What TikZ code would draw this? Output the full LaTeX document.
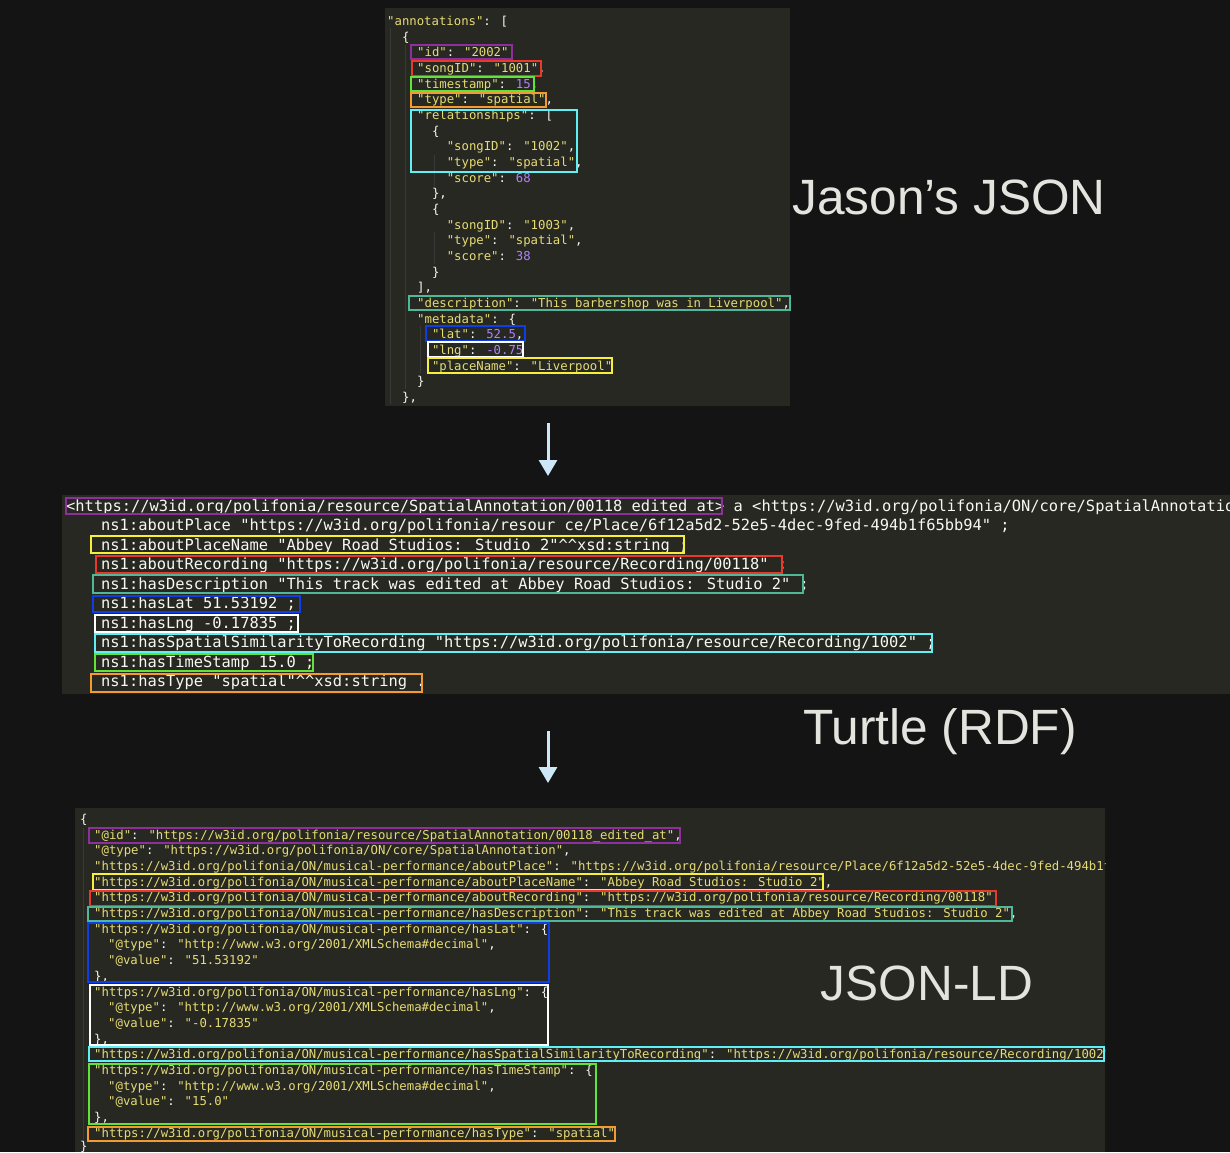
\documentclass[tikz,border=0pt]{standalone}
\usepackage{fontspec}
\setmainfont{Liberation Sans}
\newfontfamily\codefont{DejaVu Sans Mono}
\definecolor{bg}{HTML}{141414}
\definecolor{panel}{HTML}{272822}
\definecolor{jy}{HTML}{E6DB74}
\definecolor{jn}{HTML}{AE81FF}
\definecolor{jw}{HTML}{F8F8F2}
\definecolor{bpur}{HTML}{8E2F9E}
\definecolor{bred}{HTML}{E8392A}
\definecolor{bgrn}{HTML}{62E23A}
\definecolor{bora}{HTML}{F39A33}
\definecolor{bcya}{HTML}{5EF0F5}
\definecolor{btea}{HTML}{4FB89A}
\definecolor{bblu}{HTML}{0F3EE6}
\definecolor{byel}{HTML}{F7EF3A}
\definecolor{arr}{HTML}{CDE7F7}
\newcommand\Y[1]{\textcolor{jy}{#1}}
\newcommand\N[1]{\textcolor{jn}{#1}}
\newcommand\cc{\char"5E\char"5E}
\def\PF{https://w3id.org/polifonia}
\def\MP{\PF/ON/musical-performance}
\newcounter{ln}
\newcommand\jl[3]{\stepcounter{ln}\node[jtxt] (j\theln) at (#1,#2+4.3) {#3};}
\newcommand\tl[3]{\stepcounter{ln}\node[ttxt] (t\theln) at (#1,#2+5.4) {#3};}
\tikzset{
  jtxt/.style={anchor=base west,inner sep=0,text=jw,font=\codefont\fontsize{12.3}{14}\selectfont},
  ttxt/.style={anchor=base west,inner sep=0,text=jw,font=\codefont\fontsize{15.4}{17}\selectfont},
  hb/.style={draw=#1,line width=2.5pt},
  title/.style={text=jw!92!black,font=\fontsize{49.6}{58}\selectfont,inner sep=0},
  flow/.style={draw=arr,line width=3pt,-{Triangle[length=16pt,width=18pt]}},
  guide/.style={draw=gray!45!black,line width=0.8pt}
}
\usetikzlibrary{arrows.meta}
\begin{document}
\begin{tikzpicture}[x=1pt,y=-1pt]
\useasboundingbox (0,0) rectangle (1230,1152);
\fill[bg] (0,0) rectangle (1230,1152);
% panels
\fill[panel] (385,8) rectangle (790,406);
\fill[panel] (62,495) rectangle (1230,694);
\fill[panel] (75,808) rectangle (1105,1152);
% guides top
\draw[guide] (390,28) -- (390,404);
\draw[guide] (405,45) -- (405,389);
\draw[guide] (434,155) -- (434,186);
\draw[guide] (434,232) -- (434,264);
\draw[guide] (420,326) -- (420,373);
% ---------- top JSON
\jl{387}{21}{\Y{"annotations"}: [}
\jl{402}{36.7}{\{}
\jl{417}{52.3}{\Y{"id"}: \Y{"2002"},}
\jl{417}{68}{\Y{"songID"}: \Y{"1001"},}
\jl{417}{83.7}{\Y{"timestamp"}: \N{15},}
\jl{417}{99.3}{\Y{"type"}: \Y{"spatial"},}
\jl{417}{115}{\Y{"relationships"}: [}
\jl{431.8}{130.7}{\{}
\jl{446.6}{146.3}{\Y{"songID"}: \Y{"1002"},}
\jl{446.6}{162}{\Y{"type"}: \Y{"spatial"},}
\jl{446.6}{177.7}{\Y{"score"}: \N{68}}
\jl{431.8}{193.3}{\},}
\jl{431.8}{209}{\{}
\jl{446.6}{224.7}{\Y{"songID"}: \Y{"1003"},}
\jl{446.6}{240.3}{\Y{"type"}: \Y{"spatial"},}
\jl{446.6}{256}{\Y{"score"}: \N{38}}
\jl{431.8}{271.7}{\}}
\jl{417}{287.3}{],}
\jl{417}{303}{\Y{"description"}: \Y{"This barbershop was in Liverpool"},}
\jl{417}{318.7}{\Y{"metadata"}: \{}
\jl{431.8}{334.3}{\Y{"lat"}: \N{52.5},}
\jl{431.8}{350}{\Y{"lng"}: \N{-0.75}}
\jl{431.8}{365.7}{\Y{"placeName"}: \Y{"Liverpool"}}
\jl{417}{381.3}{\}}
\jl{402}{397}{\},}
\draw[hb=bpur] (411,45) rectangle (512,59);
\draw[hb=bred] (412,61) rectangle (541,76);
\draw[hb=bgrn] (411,77) rectangle (534,91);
\draw[hb=bora] (411,93) rectangle (546,107);
\draw[hb=bcya] (411,110) rectangle (577,172);
\draw[hb=btea] (409,296) rectangle (790,310);
\draw[hb=bblu] (426,326) rectangle (525,341);
\draw[hb=white] (428,342) rectangle (523,357);
\draw[hb=byel] (428,358) rectangle (612,373);
\node[title,anchor=base] (t1) at (949,214) {Jason’s JSON};
% arrows
\coordinate (a1s) at (548,423); \coordinate (a1e) at (548,476);
\draw[flow] (a1s) -- (a1e);
\coordinate (a2s) at (548,731); \coordinate (a2e) at (548,783);
\draw[flow] (a2s) -- (a2e);
% ---------- Turtle
\begin{scope}
\clip (62,495) rectangle (1230,694);
\tl{66}{506}{<\PF/resource/SpatialAnnotation/00118\_edited\_at> a <\PF/ON/core/SpatialAnnotation> ;}
\end{scope}
\tl{101}{525.5}{ns1:aboutPlace "https://w3id.org/polifonia/resour ce/Place/6f12a5d2-52e5-4dec-9fed-494b1f65bb94" ;}
\tl{101}{545}{ns1:aboutPlaceName "Abbey Road Studios: Studio 2"\cc xsd:string ;}
\tl{101}{564.5}{ns1:aboutRecording "\PF/resource/Recording/00118" ;}
\tl{101}{584}{ns1:hasDescription "This track was edited at Abbey Road Studios: Studio 2" ;}
\tl{101}{603.5}{ns1:hasLat 51.53192 ;}
\tl{101}{623}{ns1:hasLng -0.17835 ;}
\tl{101}{642.5}{ns1:hasSpatialSimilarityToRecording "\PF/resource/Recording/1002" ;}
\tl{101}{662}{ns1:hasTimeStamp 15.0 ;}
\tl{101}{681.5}{ns1:hasType "spatial"\cc xsd:string .}
\draw[hb=bpur] (66,498) rectangle (722,514);
\draw[hb=byel] (91,536) rectangle (684,553);
\draw[hb=bred] (96,556) rectangle (782,573);
\draw[hb=btea] (93,575) rectangle (803,593);
\draw[hb=bblu] (93,596) rectangle (300,612);
\draw[hb=white] (95,615) rectangle (298,632);
\draw[hb=bcya] (95,634) rectangle (932,652);
\draw[hb=bgrn] (95,654) rectangle (313,671);
\draw[hb=bora] (91,674) rectangle (422,692);
\node[title,anchor=base] (t2) at (940,744) {Turtle (RDF)};
% ---------- JSON-LD
\draw[guide] (83,828) -- (83,1146);
\begin{scope}
\clip (75,808) rectangle (1105,1152);
\jl{80}{819}{\{}
\jl{94}{834.7}{\Y{"@id"}: \Y{"\PF/resource/SpatialAnnotation/00118\_edited\_at"},}
\jl{94}{850.4}{\Y{"@type"}: \Y{"\PF/ON/core/SpatialAnnotation"},}
\jl{94}{866.1}{\Y{"\MP/aboutPlace"}: \Y{"\PF/resource/Place/6f12a5d2-52e5-4dec-9fed-494b1f65bb94"},}
\jl{94}{881.8}{\Y{"\MP/aboutPlaceName"}: \Y{"Abbey Road Studios: Studio 2"},}
\jl{94}{897.5}{\Y{"\MP/aboutRecording"}: \Y{"\PF/resource/Recording/00118"},}
\jl{94}{913.2}{\Y{"\MP/hasDescription"}: \Y{"This track was edited at Abbey Road Studios: Studio 2"},}
\jl{94}{928.9}{\Y{"\MP/hasLat"}: \{}
\jl{108}{944.6}{\Y{"@type"}: \Y{"http://www.w3.org/2001/XMLSchema\#decimal"},}
\jl{108}{960.3}{\Y{"@value"}: \Y{"51.53192"}}
\jl{94}{976}{\},}
\jl{94}{991.7}{\Y{"\MP/hasLng"}: \{}
\jl{108}{1007.4}{\Y{"@type"}: \Y{"http://www.w3.org/2001/XMLSchema\#decimal"},}
\jl{108}{1023.1}{\Y{"@value"}: \Y{"-0.17835"}}
\jl{94}{1038.8}{\},}
\jl{94}{1054.5}{\Y{"\MP/hasSpatialSimilarityToRecording"}: \Y{"\PF/resource/Recording/1002"}}
\jl{94}{1070.2}{\Y{"\MP/hasTimeStamp"}: \{}
\jl{108}{1085.9}{\Y{"@type"}: \Y{"http://www.w3.org/2001/XMLSchema\#decimal"},}
\jl{108}{1101.6}{\Y{"@value"}: \Y{"15.0"}}
\jl{94}{1117.3}{\},}
\jl{94}{1133}{\Y{"\MP/hasType"}: \Y{"spatial"}}
\jl{80}{1146.5}{\}}
\end{scope}
\draw[hb=bpur] (89,828) rectangle (680,843);
\draw[hb=byel] (93,874) rectangle (823,890);
\draw[hb=bred] (90,891) rectangle (996,906);
\draw[hb=btea] (88,907) rectangle (1012,921);
\draw[hb=bblu] (88,923) rectangle (549,982);
\draw[hb=white] (90,985) rectangle (548,1045);
\draw[hb=bcya] (89,1047) rectangle (1104,1061);
\draw[hb=bgrn] (89,1064) rectangle (596,1124);
\draw[hb=bora] (88,1127) rectangle (615,1141);
\node[title,anchor=base] (t3) at (927,1000) {JSON-LD};
\end{tikzpicture}
\end{document}
